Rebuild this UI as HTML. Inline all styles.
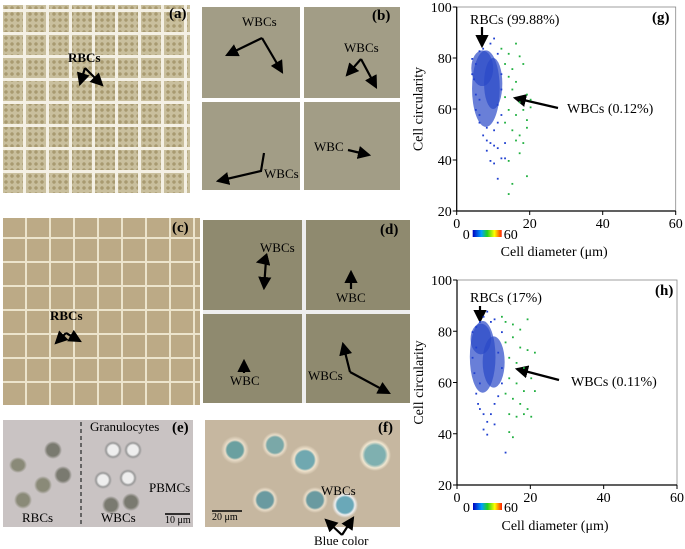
<!DOCTYPE html>
<html><head><meta charset="utf-8">
<style>
body{margin:0;width:685px;height:548px;background:#fff;position:relative;overflow:hidden;font-family:"Liberation Serif",serif;}
.p{position:absolute;overflow:hidden}
.lbl{position:absolute;font-weight:bold;font-size:15px;color:#000}
.t{position:absolute;font-size:13px;color:#000;white-space:nowrap}
svg{position:absolute;left:0;top:0}
</style></head><body>
<div class="p" style="left:3px;top:5px;width:187px;height:188px;background:#c9bf9d;background-image:repeating-linear-gradient(90deg,transparent 0 20px,#f4f0e4 20px 23px),repeating-linear-gradient(0deg,transparent 0 20px,#f4f0e4 20px 23px),radial-gradient(circle,#a89a70 1.5px,transparent 2px);background-size:auto,auto,6px 6px"></div>
<div class="p" style="left:202px;top:7px;width:198px;height:183px;background:#a29d86;background-image:linear-gradient(90deg,transparent 98px,#fff 98px 102px,transparent 102px),linear-gradient(0deg,transparent 88px,#fff 88px 92px,transparent 92px)"></div>
<div class="p" style="left:3px;top:218px;width:197px;height:187px;background:#bcaa86;background-image:repeating-linear-gradient(90deg,transparent 0 22px,#ece4cc 22px 24px),repeating-linear-gradient(0deg,transparent 0 22px,#ece4cc 22px 24px)"></div>
<div class="p" style="left:203px;top:220px;width:207px;height:183px;background:#8f8a6f;background-image:linear-gradient(90deg,transparent 99px,#eee 99px 103px,transparent 103px),linear-gradient(0deg,transparent 89px,#eee 89px 93px,transparent 93px)"></div>
<div class="p" style="left:3px;top:420px;width:190px;height:107px;background:#c9c3c3;background-image:radial-gradient(ellipse 9px 8px at 15px 45px,#8a8a78 6px,transparent 9px),radial-gradient(ellipse 9px 9px at 50px 30px,#7a7a70 6px,transparent 9px),radial-gradient(ellipse 9px 9px at 40px 65px,#8a8a78 6px,transparent 9px),radial-gradient(ellipse 9px 9px at 20px 80px,#8a8a78 6px,transparent 9px),radial-gradient(ellipse 9px 9px at 60px 55px,#7a7a70 6px,transparent 9px),radial-gradient(circle at 110px 30px,#eee 5px,#999 7px,transparent 9px),radial-gradient(circle at 130px 30px,#eee 5px,#999 7px,transparent 9px),radial-gradient(circle at 100px 60px,#eee 5px,#999 7px,transparent 9px),radial-gradient(circle at 125px 58px,#eee 5px,#999 7px,transparent 9px),radial-gradient(circle at 108px 85px,#7a7a70 6px,transparent 9px),radial-gradient(circle at 128px 82px,#7a7a70 6px,transparent 9px)"></div>
<div class="p" style="left:205px;top:420px;width:195px;height:107px;background:#c6b7a0;background-image:radial-gradient(circle at 30px 30px,#6aa0a0 8px,#e8dcc8 10px,transparent 14px),radial-gradient(circle at 100px 40px,#70a8b0 9px,#efe2cc 11px,transparent 15px),radial-gradient(circle at 170px 35px,#7fb0b0 10px,#f0e6d0 13px,transparent 16px),radial-gradient(circle at 140px 85px,#6aa8b8 8px,#eee 10px,transparent 13px),radial-gradient(circle at 60px 80px,#6a9aa0 8px,#e8dcc8 10px,transparent 13px),radial-gradient(circle at 110px 80px,#6a9aa0 8px,#e8dcc8 10px,transparent 13px),radial-gradient(circle at 70px 25px,#7aa8a8 8px,#e8dcc8 10px,transparent 13px)"></div>
<svg width="685" height="548">
<defs><marker id="ah" markerWidth="6" markerHeight="6" refX="5" refY="3" orient="auto" markerUnits="strokeWidth"><path d="M0,0 L6,3 L0,6 z" fill="#000"/></marker></defs>
<g stroke="#000" stroke-width="2.2" fill="none" marker-end="url(#ah)">
<path d="M85 68 L80 84"/><path d="M85 68 L102 85"/>
<path d="M262 38 L227 55"/><path d="M262 38 L282 72"/>
<path d="M361 59 L347 75"/><path d="M361 59 L376 87"/>
<path d="M264 153 L261 171 L218 181"/>
<path d="M348 150 L369 155"/>
<path d="M66 333 L56 343"/><path d="M66 333 L80 341"/>
<path d="M266 260 L258 262"/><path d="M266 260 L264 288"/>
<path d="M351 289 L351 272"/>
<path d="M244 373 L244 361"/>
<path d="M350 372 L343 344"/><path d="M350 372 L389 393"/>
<path d="M342 535 L326 520"/><path d="M342 535 L353 518"/>
<path d="M482 27 L482 46"/>
<path d="M558 108 L515 98"/>
<path d="M480 306 L480 321"/>
<path d="M559 380 L517 369"/>
</g>
<line x1="81" y1="422" x2="81" y2="527" stroke="#444" stroke-dasharray="4,3" stroke-width="1.5"/>
<line x1="165" y1="514" x2="190" y2="514" stroke="#000" stroke-width="1.5"/>
<line x1="212" y1="511" x2="242" y2="511" stroke="#000" stroke-width="1.5"/>
<g id="plots"></g>
</svg>
<div class="lbl" style="left:169px;top:6px">(a)</div>
<div class="lbl" style="left:372px;top:8px">(b)</div>
<div class="lbl" style="left:172px;top:220px">(c)</div>
<div class="lbl" style="left:380px;top:222px">(d)</div>
<div class="lbl" style="left:172px;top:420px">(e)</div>
<div class="lbl" style="left:378px;top:420px">(f)</div>
<div class="lbl" style="left:652px;top:10px">(g)</div>
<div class="lbl" style="left:655px;top:283px">(h)</div>
<div class="t" style="left:68px;top:50px;font-weight:bold">RBCs</div>
<div class="t" style="left:242px;top:14px">WBCs</div>
<div class="t" style="left:344px;top:40px">WBCs</div>
<div class="t" style="left:264px;top:166px">WBCs</div>
<div class="t" style="left:314px;top:139px">WBC</div>
<div class="t" style="left:50px;top:308px;font-weight:bold">RBCs</div>
<div class="t" style="left:260px;top:240px">WBCs</div>
<div class="t" style="left:336px;top:290px">WBC</div>
<div class="t" style="left:230px;top:373px">WBC</div>
<div class="t" style="left:308px;top:368px">WBCs</div>
<div class="t" style="left:90px;top:419px">Granulocytes</div>
<div class="t" style="left:149px;top:480px">PBMCs</div>
<div class="t" style="left:22px;top:510px">RBCs</div>
<div class="t" style="left:101px;top:510px">WBCs</div>
<div class="t" style="left:165px;top:515px;font-size:10px">10 μm</div>
<div class="t" style="left:212px;top:512px;font-size:10px">20 μm</div>
<div class="t" style="left:321px;top:483px">WBCs</div>
<div class="t" style="left:314px;top:533px">Blue color</div>
<script>
const ticksX=[0,20,40,60];
const ticksY=[20,40,60,80,100];
const gCloud=[[8,68,3.8,15],[7,76,3,7],[10,70,2.5,10]];
const gBlue=[[4,80],[5,78],[4.5,72],[6,83],[7,84],[9,86],[10,88],[11,82],[5,60],[6,55],[7,50],[8,48],[9,47],[10,46],[11,45],[8,44],[9,40],[10,39],[11,33],[6,64],[12,58],[11,62],[12,68],[5,66],[4,74],[12,74],[13,47],[12,41],[13,41],[8,53],[10,52],[11,55],[6,58]];
const gGreen=[[12,84],[14,82],[16,86],[17,81],[13,78],[15,76],[18,78],[14,73],[16,71],[19,66],[15,68],[17,63],[20,64],[14,60],[16,58],[18,60],[19,56],[13,55],[15,52],[17,50],[19,53],[16,48],[18,47],[17,43],[14,40],[19,34],[15,31],[14,27],[20,61],[13,65]];
const hCloud=[[7,70,3.5,14],[6.5,77,2.8,6],[10,68,3,10]];
const hBlue=[[4,80],[5,82],[6,84],[7,86],[8,88],[9,84],[10,85],[4,70],[4.5,64],[5,56],[5.5,52],[6,50],[7,48],[8,45],[7,42],[8,40],[9,48],[10,52],[11,55],[6,60],[12,60],[12,66],[11,72],[12,80],[10,44],[13,33],[5,74]];
const hGreen=[[12,86],[13,84],[15,83],[17,81],[19,85],[13,76],[15,78],[17,74],[19,73],[21,72],[14,70],[16,68],[18,66],[20,62],[14,62],[16,60],[18,57],[21,57],[13,56],[15,54],[17,52],[19,50],[14,48],[16,47],[18,48],[20,47],[14,41],[15,39]];
const plots=document.getElementById('plots');
const NS='http://www.w3.org/2000/svg';
function mk(tag,a,par){const e=document.createElementNS(NS,tag);for(const k in a)e.setAttribute(k,a[k]);par.appendChild(e);return e;}
function draw(name,x0,x1,y0,y1,cloud,blue,green,cbY){
 const sx=v=>x0+(x1-x0)*v/60, sy=v=>y0+(y1-y0)*(v-20)/80;
 const g=mk('g',{},plots);
 
 
 cloud.forEach(c=>{const e=mk('ellipse',{cx:sx(c[0]),cy:sy(c[1]),rx:(x1-x0)*c[2]/60,ry:Math.abs(y1-y0)*c[3]/80,fill:'#2a48c8','fill-opacity':0.7},g);
  
  });
 blue.forEach(p=>{const r=mk('rect',{x:sx(p[0]),y:sy(p[1]),width:1.8,height:1.8,fill:'#2040d0'},g);
  
  });
 green.forEach(p=>{const r=mk('rect',{x:sx(p[0]),y:sy(p[1]),width:1.8,height:1.8,fill:'#20b040'},g);
  
  });
 mk('rect',{x:x0,y:y1,width:x1-x0,height:y0-y1,fill:'none',stroke:'#888','stroke-width':0.8},g);
 mk('line',{x1:x0,y1:y0,x2:x1,y2:y0,stroke:'#000','stroke-width':1.2},g);
 mk('line',{x1:x0,y1:y0,x2:x0,y2:y1,stroke:'#000','stroke-width':1.2},g);
 ticksX.forEach(v=>{mk('line',{x1:sx(v),y1:y0,x2:sx(v),y2:y0+4,stroke:'#000'},g);
  const t=mk('text',{x:sx(v),y:y0+17,'text-anchor':'middle','font-size':14,'font-family':'Liberation Serif'},g);t.textContent=v;
  
  });
 ticksY.forEach(v=>{mk('line',{x1:x0,y1:sy(v),x2:x0-4,y2:sy(v),stroke:'#000'},g);
  const t=mk('text',{x:x0-5,y:sy(v)+5,'text-anchor':'end','font-size':14,'font-family':'Liberation Serif'},g);t.textContent=v;
  
  });
 const xt=mk('text',{x:sx(30)-12,y:y0+45,'text-anchor':'middle','font-size':14,'font-family':'Liberation Serif'},g);xt.textContent='Cell diameter (μm)';
 
 
 const yt=mk('text',{x:0,y:0,'text-anchor':'middle','font-size':14,'font-family':'Liberation Serif',transform:`translate(${x0-34},${(y0+y1)/2}) rotate(-90)`},g);yt.textContent='Cell circularity';
 
 
 const gr=mk('linearGradient',{id:'cb'+name},g);
 [['0','#0000c0'],['0.3','#00a0ff'],['0.5','#20d020'],['0.75','#ffff00'],['1','#ff2000']].forEach(s=>mk('stop',{offset:s[0],'stop-color':s[1]},gr));
 const cb=mk('rect',{x:x0+16,y:cbY,width:29,height:7,fill:`url(#cb${name})`},g);
 
 
 const c0=mk('text',{x:x0+13,y:cbY+9,'text-anchor':'end','font-size':14,'font-family':'Liberation Serif'},g);c0.textContent='0';
 const c1=mk('text',{x:x0+47,y:cbY+9,'font-size':14,'font-family':'Liberation Serif'},g);c1.textContent='60';
}
draw('scatter-g',456.7,675.7,211,7,gCloud,gBlue,gGreen,230);
draw('scatter-h',457,677,485,280,hCloud,hBlue,hGreen,503);
const ann=[['RBCs (99.88%)',470,24],['WBCs (0.12%)',567,113],['RBCs (17%)',470,302],['WBCs (0.11%)',571,386]];
ann.forEach(a=>{const t=mk('text',{x:a[1],y:a[2],'font-size':14,'font-family':'Liberation Serif'},plots);t.textContent=a[0];
 
 });
</script>
</body></html>
